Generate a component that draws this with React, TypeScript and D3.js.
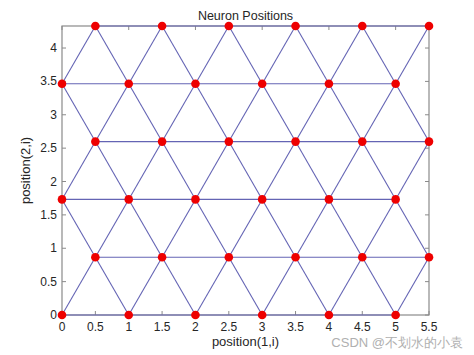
import React from "react";
import * as d3 from "d3";

// Neuron positions (6x6 hexagonal topology)
const posX: number[] = [
  0, 1, 2, 3, 4, 5,
  0.5, 1.5, 2.5, 3.5, 4.5, 5.5,
  0, 1, 2, 3, 4, 5,
  0.5, 1.5, 2.5, 3.5, 4.5, 5.5,
  0, 1, 2, 3, 4, 5,
  0.5, 1.5, 2.5, 3.5, 4.5, 5.5,
];
const posY: number[] = [
  0, 0, 0, 0, 0, 0,
  0.866, 0.866, 0.866, 0.866, 0.866, 0.866,
  1.732, 1.732, 1.732, 1.732, 1.732, 1.732,
  2.598, 2.598, 2.598, 2.598, 2.598, 2.598,
  3.464, 3.464, 3.464, 3.464, 3.464, 3.464,
  4.330, 4.330, 4.330, 4.330, 4.330, 4.330,
];
const xTicks: number[] = [0, 0.5, 1, 1.5, 2, 2.5, 3, 3.5, 4, 4.5, 5, 5.5];
const yTicks: number[] = [0, 0.5, 1, 1.5, 2, 2.5, 3, 3.5, 4];

const W = 474, H = 355;
const L = 62, R = 429, T = 26, B = 315;
const FONT = "'Liberation Sans', Arial, Helvetica, sans-serif";

export default function App() {
  const x = d3.scaleLinear().domain([0, 5.5]).range([L, R]);
  const y = d3.scaleLinear().domain([0, 4.33]).range([B, T]);

  const edges: [number, number][] = [];
  for (let i = 0; i < posX.length; i++) {
    for (let j = i + 1; j < posX.length; j++) {
      const d = Math.hypot(posX[i] - posX[j], posY[i] - posY[j]);
      if (d < 1.01) edges.push([i, j]);
    }
  }
  const axisColor = "#8a8a8a";
  const textColor = "#262626";
  const tickLen = 4;

  return (
    <svg width={W} height={H} style={{ position: "absolute", left: 0, top: 0, background: "#fff" }}>
      <rect x={0} y={0} width={W} height={H} fill="#fff" />
      {xTicks.map((t) => (
        <g key={"xt" + t}>
          <line x1={x(t)} x2={x(t)} y1={B} y2={B - tickLen} stroke={axisColor} strokeWidth={1} />
          <line x1={x(t)} x2={x(t)} y1={T} y2={T + tickLen} stroke={axisColor} strokeWidth={1} />
          <text x={x(t)} y={B + 16} textAnchor="middle" fontFamily={FONT} fontSize={12} fill={textColor}>
            {t}
          </text>
        </g>
      ))}
      {yTicks.map((t) => (
        <g key={"yt" + t}>
          <line x1={L} x2={L + tickLen} y1={y(t)} y2={y(t)} stroke={axisColor} strokeWidth={1} />
          <line x1={R} x2={R - tickLen} y1={y(t)} y2={y(t)} stroke={axisColor} strokeWidth={1} />
          <text x={L - 5} y={y(t) + 4} textAnchor="end" fontFamily={FONT} fontSize={12} fill={textColor}>
            {t}
          </text>
        </g>
      ))}
      <rect x={L} y={T} width={R - L} height={B - T} fill="none" stroke={axisColor} strokeWidth={1.2} />
      {edges.map(([i, j], k) => (
        <line
          key={"e" + k}
          x1={x(posX[i])}
          y1={y(posY[i])}
          x2={x(posX[j])}
          y2={y(posY[j])}
          stroke="#6464b4"
          strokeWidth={1.1}
        />
      ))}
      {posX.map((px, i) => (
        <circle key={"n" + i} cx={x(px)} cy={y(posY[i])} r={4.3} fill="#ee0000" />
      ))}
      <text x={(L + R) / 2} y={20} textAnchor="middle" fontFamily={FONT} fontSize={12.5} fill={textColor}>
        Neuron Positions
      </text>
      <text x={(L + R) / 2} y={B + 31} textAnchor="middle" fontFamily={FONT} fontSize={13} fill={textColor}>
        position(1,i)
      </text>
      <text
        transform={`translate(${30},${(T + B) / 2}) rotate(-90)`}
        textAnchor="middle"
        fontFamily={FONT}
        fontSize={13}
        fill={textColor}
      >
        position(2,i)
      </text>
      <text x={463} y={347} textAnchor="end" fontFamily={FONT} fontSize={13} fill="#b0b0b0">
        CSDN @不划水的小袁
      </text>
    </svg>
  );
}
